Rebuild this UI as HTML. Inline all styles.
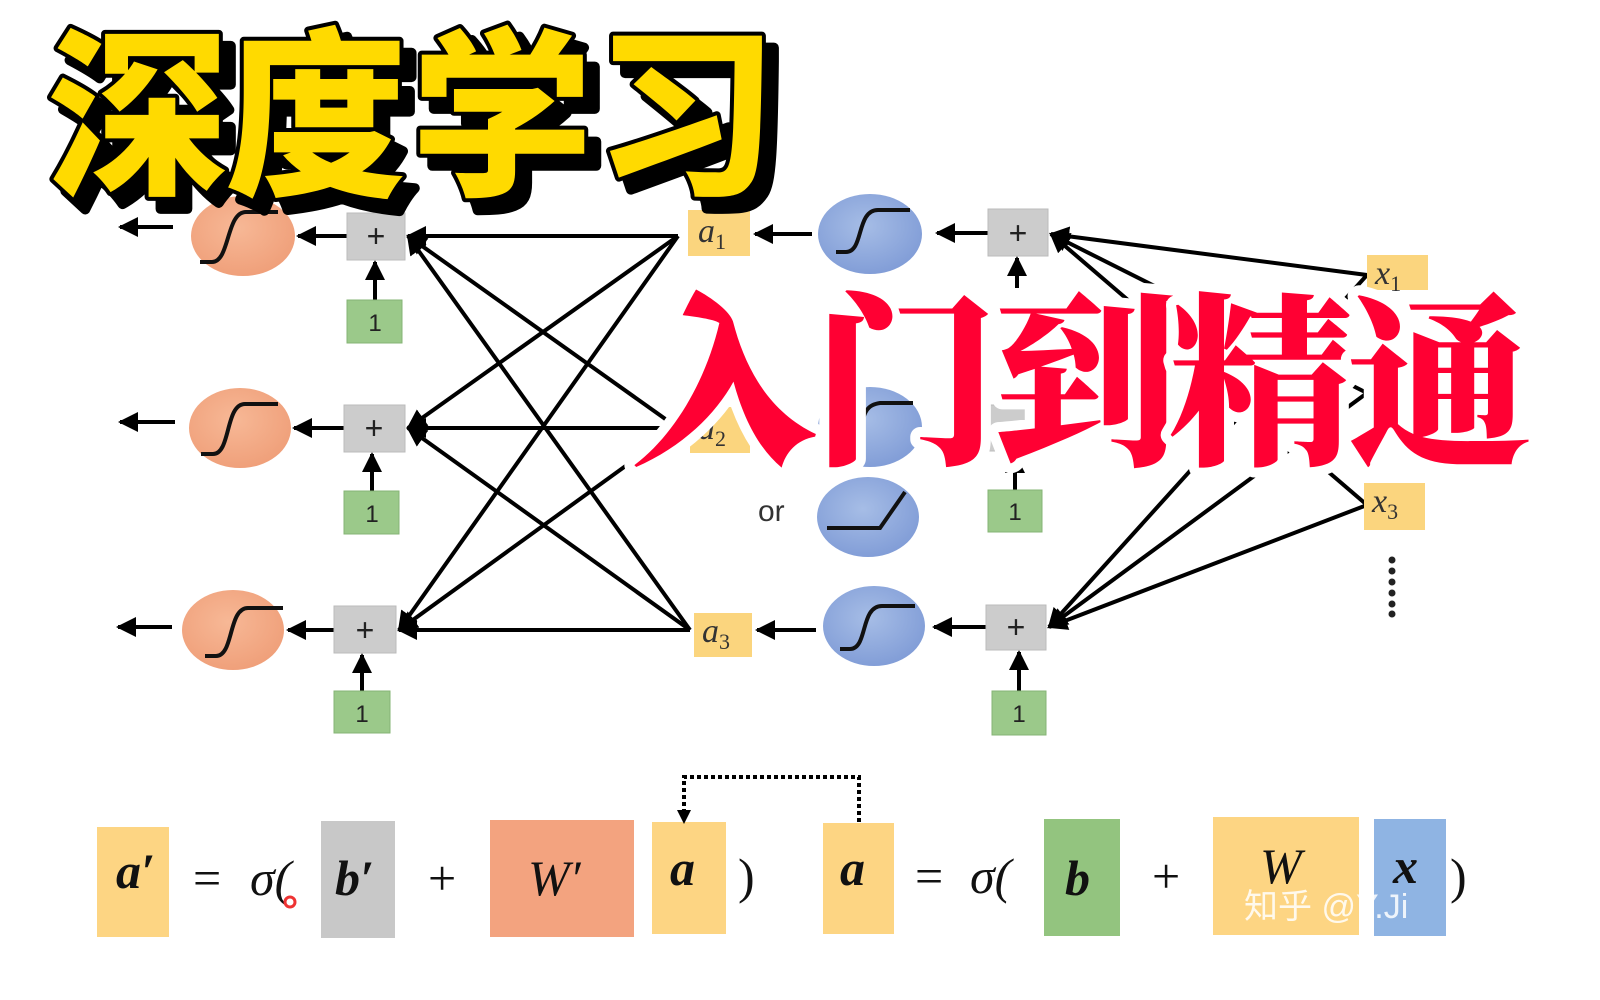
<!DOCTYPE html>
<html><head><meta charset="utf-8"><style>
html,body{margin:0;padding:0;background:#fff;}
svg{display:block}
</style></head><body>
<svg width="1600" height="1000" viewBox="0 0 1600 1000" xmlns="http://www.w3.org/2000/svg">
<defs>
<radialGradient id="og" cx="45%" cy="40%" r="65%"><stop offset="0" stop-color="#F7B896"/><stop offset="1" stop-color="#EF9E78"/></radialGradient>
<radialGradient id="bg" cx="45%" cy="40%" r="65%"><stop offset="0" stop-color="#A6BDE6"/><stop offset="1" stop-color="#7F9BD6"/></radialGradient>
<marker id="ah" viewBox="0 0 10 10" refX="9" refY="5" markerWidth="5" markerHeight="5" orient="auto"><path d="M0,0 L10,5 L0,10 z" fill="#000"/></marker>
</defs>
<rect width="1600" height="1000" fill="#fff"/>

<g stroke="#000" stroke-width="4" fill="none" marker-end="url(#ah)">
<line x1="678" y1="236" x2="408" y2="236"/>
<line x1="678" y1="236" x2="408" y2="428"/>
<line x1="678" y1="236" x2="399" y2="630"/>
<line x1="678" y1="428" x2="408" y2="236"/>
<line x1="678" y1="428" x2="408" y2="428"/>
<line x1="678" y1="428" x2="399" y2="630"/>
<line x1="690" y1="630" x2="408" y2="236"/>
<line x1="690" y1="630" x2="408" y2="428"/>
<line x1="690" y1="630" x2="399" y2="630"/>
<line x1="1367" y1="275" x2="1051" y2="234"/>
<line x1="1367" y1="393" x2="1051" y2="234"/>
<line x1="1367" y1="505" x2="1051" y2="234"/>
<line x1="1367" y1="275" x2="1049" y2="627"/>
<line x1="1367" y1="393" x2="1049" y2="627"/>
<line x1="1367" y1="505" x2="1049" y2="627"/>
</g>
<g stroke="#000" stroke-width="4" fill="none" marker-end="url(#ah)">
<line x1="173" y1="227" x2="120" y2="227"/>
<line x1="175" y1="422" x2="120" y2="422"/>
<line x1="172" y1="627" x2="118" y2="627"/>
<line x1="347" y1="236" x2="298" y2="236"/>
<line x1="344" y1="428" x2="294" y2="428"/>
<line x1="334" y1="630" x2="288" y2="630"/>
<line x1="375" y1="300" x2="375" y2="262"/>
<line x1="372" y1="491" x2="372" y2="454"/>
<line x1="362" y1="691" x2="362" y2="655"/>
<line x1="812" y1="234" x2="755" y2="234"/>
<line x1="816" y1="630" x2="757" y2="630"/>
<line x1="988" y1="233" x2="937" y2="233"/>
<line x1="986" y1="627" x2="934" y2="627"/>
<line x1="1017" y1="288" x2="1017" y2="258"/>
<line x1="1015" y1="490" x2="1015" y2="455"/>
<line x1="1019" y1="691" x2="1019" y2="652"/>
</g>

<g fill="url(#og)">
<ellipse cx="243" cy="236" rx="52" ry="40"/>
<ellipse cx="240" cy="428" rx="51" ry="40"/>
<ellipse cx="233" cy="630" rx="51" ry="40"/>
</g>
<g stroke="#111" stroke-width="4" fill="none">
<path d="M200,262 L212,262 C230,262 226,212 246,212 L278,212" />
<path d="M201,454 L213,454 C231,454 225,404 245,404 L278,404" />
<path d="M205,656 L216,656 C234,656 228,608 248,608 L283,608" />
</g>
<g fill="url(#bg)">
<ellipse cx="870" cy="234" rx="52" ry="40"/>
<ellipse cx="870" cy="427" rx="52" ry="40"/>
<ellipse cx="868" cy="517" rx="51" ry="40"/>
<ellipse cx="874" cy="626" rx="51" ry="40"/>
</g>
<g stroke="#111" stroke-width="4" fill="none">
<path d="M836,252 L846,252 C864,252 856,210 878,210 L910,210" />
<path d="M860,440 C862,410 868,405 880,403 L913,403" />
<path d="M827,528 L880,528 L905,492" />
<path d="M840,649 L850,649 C868,649 860,606 882,606 L915,606" />
</g>
<text x="758" y="521" font-family="Liberation Sans, sans-serif" font-size="30" fill="#333">or</text>

<g fill="#CCCCCC" stroke="#bbb" stroke-width="1">
<rect x="347" y="213" width="58" height="47"/>
<rect x="344" y="405" width="61" height="47"/>
<rect x="334" y="606" width="62" height="47"/>
<rect x="988" y="209" width="60" height="47"/>
<rect x="988" y="405" width="60" height="46"/>
<rect x="986" y="605" width="60" height="45"/>
</g>
<g font-family="Liberation Sans, sans-serif" font-size="32" fill="#222" text-anchor="middle">
<text x="376" y="247">+</text><text x="374" y="439">+</text><text x="365" y="641">+</text>
<text x="1018" y="244">+</text><text x="1016" y="638">+</text>
</g>
<g fill="#9BC98A" stroke="#86b475" stroke-width="1">
<rect x="347" y="300" width="55" height="43"/>
<rect x="344" y="491" width="55" height="43"/>
<rect x="334" y="691" width="56" height="42"/>
<rect x="988" y="490" width="54" height="42"/>
<rect x="992" y="691" width="54" height="44"/>
</g>
<g font-family="Liberation Sans, sans-serif" font-size="24" fill="#222" text-anchor="middle">
<text x="375" y="331">1</text><text x="372" y="522">1</text><text x="362" y="722">1</text>
<text x="1015" y="520">1</text><text x="1019" y="722">1</text>
</g>
<g fill="#FBD57E">
<rect x="688" y="210" width="62" height="46"/>
<rect x="690" y="407" width="60" height="46"/>
<rect x="694" y="613" width="58" height="44"/>
<rect x="1367" y="255" width="61" height="35"/>
<rect x="1364" y="483" width="61" height="47"/>
</g>
<g font-family="Liberation Serif, serif" font-size="34" fill="#333">
<text x="698" y="242" font-style="italic">a<tspan font-size="22" dy="7" font-style="normal">1</tspan></text>
<text x="698" y="439" font-style="italic">a<tspan font-size="22" dy="7" font-style="normal">2</tspan></text>
<text x="702" y="642" font-style="italic">a<tspan font-size="22" dy="7" font-style="normal">3</tspan></text>
<text x="1375" y="284" font-style="italic">x<tspan font-size="22" dy="7" font-style="normal">1</tspan></text>
<text x="1372" y="512" font-style="italic">x<tspan font-size="22" dy="7" font-style="normal">3</tspan></text>
</g>
<g fill="#222"><circle cx="1392" cy="560" r="3.5"/><circle cx="1392" cy="571" r="3.5"/><circle cx="1392" cy="582" r="3.5"/><circle cx="1392" cy="593" r="3.5"/><circle cx="1392" cy="604" r="3.5"/><circle cx="1392" cy="614" r="3.5"/></g>

<rect x="97" y="827" width="72" height="110" fill="#FDD583"/>
<rect x="321" y="821" width="74" height="117" fill="#C8C8C8"/>
<rect x="490" y="820" width="144" height="117" fill="#F3A37F"/>
<rect x="652" y="822" width="74" height="112" fill="#FDD583"/>
<rect x="823" y="823" width="71" height="111" fill="#FDD583"/>
<rect x="1044" y="819" width="76" height="117" fill="#93C47F"/>
<rect x="1213" y="817" width="146" height="118" fill="#FDD583"/>
<rect x="1374" y="819" width="72" height="117" fill="#8FB4E3"/>
<path d="M859,822 L859,777 L684,777 L684,815" stroke="#000" stroke-width="4" stroke-dasharray="4 3" fill="none"/>
<path d="M677,810 L691,810 L684,824 z" fill="#000"/>
<g font-family="Liberation Serif, serif" font-size="50" fill="#111">
<text x="116" y="888" font-weight="bold" font-style="italic">a′</text>
<text x="193" y="895">=</text>
<text x="250" y="895" font-style="italic">σ(</text>
<text x="335" y="895" font-weight="bold" font-style="italic">b′</text>
<text x="428" y="895">+</text>
<text x="528" y="895" font-style="italic">W′</text>
<text x="670" y="885" font-weight="bold" font-style="italic">a</text>
<text x="738" y="893">)</text>
<text x="840" y="885" font-weight="bold" font-style="italic">a</text>
<text x="915" y="893">=</text>
<text x="970" y="893" font-style="italic">σ(</text>
<text x="1065" y="895" font-weight="bold" font-style="italic">b</text>
<text x="1152" y="893">+</text>
<text x="1260" y="883" font-style="italic">W</text>
<text x="1393" y="883" font-weight="bold" font-style="italic">x</text>
<text x="1450" y="893">)</text>
</g>
<circle cx="290" cy="902" r="5" fill="none" stroke="#e33" stroke-width="3"/>
<text x="1244" y="918" font-family="Liberation Sans, 'Noto Sans CJK SC', sans-serif" font-size="34" fill="#fff" fill-opacity="0.85">知乎 @Y.Ji</text>

<g font-family="'Noto Serif CJK SC', serif" font-weight="900" font-size="186" fill="#FF0033" stroke="#fff" stroke-width="20" stroke-linejoin="round" paint-order="stroke" text-anchor="middle">
<text x="724" y="450">入</text>
<text x="905" y="450">门</text>
<text x="1085" y="450">到</text>
<text x="1262" y="450">精</text>
<text x="1440" y="450">通</text>
</g>

<g font-family="'Noto Sans CJK SC', sans-serif" font-weight="900" font-size="182" text-anchor="middle">
<g fill="#000" stroke="#000" stroke-width="10" stroke-linejoin="round" transform="translate(12,12)">
<text x="138" y="182">深</text><text x="316" y="182">度</text><text x="502" y="182">学</text><text x="686" y="182">习</text>
</g>
<g fill="#FFDA00" stroke="#000" stroke-width="8" stroke-linejoin="round" paint-order="stroke">
<text x="138" y="182">深</text><text x="316" y="182">度</text><text x="502" y="182">学</text><text x="686" y="182">习</text>
</g>
</g>
</svg>
</body></html>
